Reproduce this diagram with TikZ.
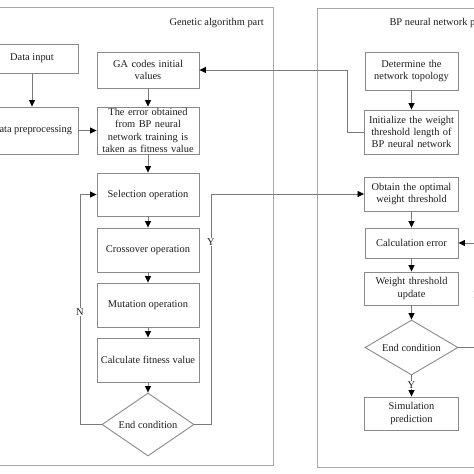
\documentclass[tikz,border=0pt]{standalone}
\usepackage{fontspec}
\setmainfont{Liberation Serif}
\usetikzlibrary{arrows.meta,shapes.geometric}
\definecolor{boxline}{HTML}{8A8A8A}
\definecolor{frameline}{HTML}{A8A8A8}
\definecolor{conn}{HTML}{7A7A7A}
\definecolor{txt}{HTML}{1E1E1E}
\tikzset{
  procbox/.style={draw=boxline, line width=0.9pt, rectangle, align=center, inner sep=1pt, text=txt, font=\fontsize{10.4}{12.3}\selectfont},
  decbox/.style={draw=boxline, line width=0.9pt, diamond, aspect=1.45, inner sep=0pt, text=txt, font=\fontsize{10.4}{12.3}\selectfont},
  frame/.style={draw=frameline, line width=1pt},
  conline/.style={draw=conn, line width=0.8pt},
  arr/.style={conline, -{Triangle[length=6.5pt,width=6pt]}, arrows={[color=black]}},
  lbl/.style={fill=white, inner sep=0.5pt, text=txt, font=\fontsize{10.4}{12}\selectfont},
  ttl/.style={text=txt, font=\fontsize{10.4}{12}\selectfont, anchor=west},
}
\begin{document}
\begin{tikzpicture}[x=1pt,y=-1pt]
\useasboundingbox (0,0) rectangle (474,474);
\clip (0,0) rectangle (474,474);
\fill[white] (0,0) rectangle (474,474);
% frames
\draw[frame] (-25,7) rectangle (273,465);
\draw[frame] (317,8) rectangle (520,467);
\node[ttl] (tga) at (166,23) {Genetic algorithm part};
\node[ttl] (tbp) at (386,23) {BP neural network part};
% left column
\node[procbox, minimum width=92pt, minimum height=29pt] (din) at (32,58.5) {Data input};
\node[procbox, minimum width=92pt, minimum height=47pt] (dpre) at (32,130.5) {Data preprocessing};
% GA column
\node[procbox, minimum width=102pt, minimum height=36pt, text width=96pt] (ga) at (148,70) {GA codes initial\\values};
\node[procbox, minimum width=102pt, minimum height=47pt, text width=100pt] (err) at (148,130.5) {The error obtained\\from BP neural\\network training is\\taken as fitness value};
\node[procbox, minimum width=102pt, minimum height=43pt] (sel) at (148,194.5) {Selection operation};
\node[procbox, minimum width=102pt, minimum height=44pt] (cross) at (148,250) {Crossover operation};
\node[procbox, minimum width=102pt, minimum height=44pt] (mut) at (148,305) {Mutation operation};
\node[procbox, minimum width=102pt, minimum height=44pt] (calc) at (148,360) {Calculate fitness value};
\node[decbox, minimum width=92pt, minimum height=63pt] (endga) at (148,424.5) {End condition};
% BP column
\node[procbox, minimum width=93pt, minimum height=38pt, text width=90pt] (det) at (411.5,71) {Determine the\\network topology};
\node[procbox, minimum width=93pt, minimum height=44pt, text width=92pt] (init) at (411.5,132) {Initialize the weight\\threshold length of\\BP neural network};
\node[procbox, minimum width=93pt, minimum height=34pt, text width=92pt] (obt) at (411.5,194) {Obtain the optimal\\weight threshold};
\node[procbox, minimum width=93pt, minimum height=30pt] (cerr) at (411.5,243) {Calculation error};
\node[procbox, minimum width=93pt, minimum height=33pt, text width=92pt] (wtu) at (411.5,288.5) {Weight threshold\\update};
\node[decbox, minimum width=93pt, minimum height=55pt] (endbp) at (411.5,347.5) {End condition};
\node[procbox, minimum width=93pt, minimum height=33pt, text width=92pt] (sim) at (411.5,413.5) {Simulation\\prediction};
% coordinates
\coordinate (nl1) at (80,424.5);
\coordinate (nl2) at (80,194.5);
\coordinate (yl1) at (211,424.5);
\coordinate (yl2) at (211,194);
\coordinate (il1) at (347,132);
\coordinate (il2) at (347,70);
\coordinate (bn1) at (484,347.5);
\coordinate (bn2) at (484,243);
% connectors
\draw[arr] (din) -- (dpre);
\draw[arr] (dpre.east) -- (err.west);
\draw[arr] (ga) -- (err);
\draw[arr] (err) -- (sel);
\draw[arr] (sel) -- (cross);
\draw[arr] (cross) -- (mut);
\draw[arr] (mut) -- (calc);
\draw[arr] (calc) -- (endga);
\draw[arr] (endga.west) -- (nl1) -- (nl2) -- (sel.west);
\draw[arr] (endga.east) -- (yl1) -- (yl2) -- (obt.west);
\draw[arr] (init.west) -- (il1) -- (il2) -- (ga.east);
\draw[arr] (det) -- (init);
\draw[arr] (obt) -- (cerr);
\draw[arr] (cerr) -- (wtu);
\draw[arr] (wtu) -- (endbp);
\draw[arr] (endbp) -- (sim);
\draw[arr] (endbp.east) -- (bn1) -- (bn2) -- (cerr.east);
% labels
\node[lbl] (ln) at (80,312) {N};
\node[lbl] (ly) at (211,242) {Y};
\node[lbl] (lyb) at (411.5,385) {Y};
\node[lbl] (lnb) at (477,295) {N};
\end{tikzpicture}
\end{document}
